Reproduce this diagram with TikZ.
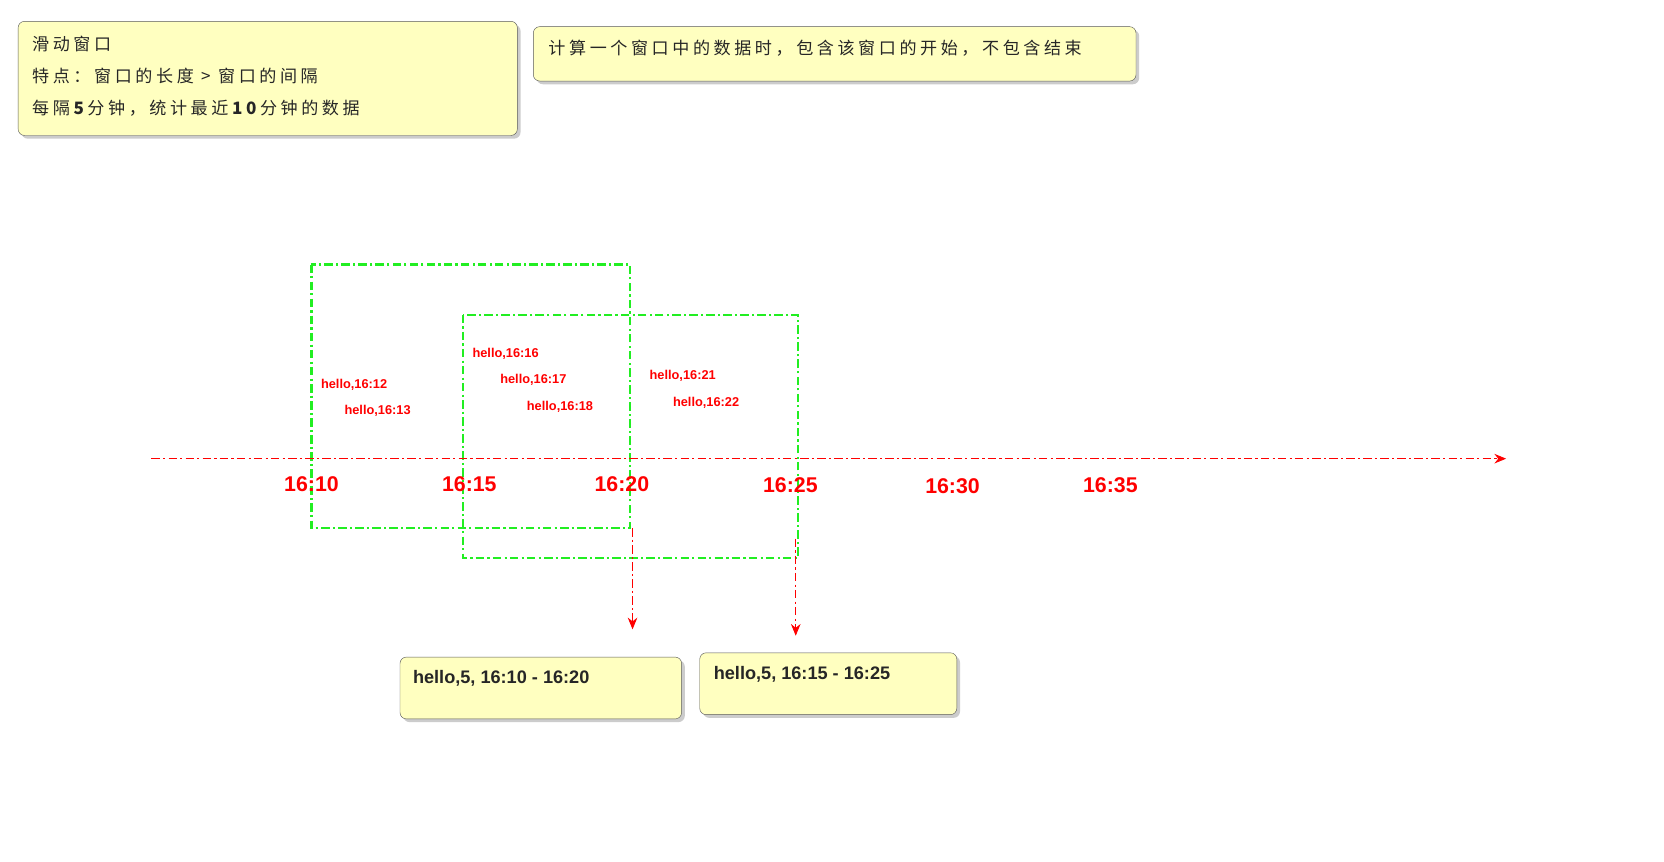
\documentclass[tikz,border=0pt]{standalone}
\usepackage{fontspec}
\setmainfont{Liberation Sans}
\newfontfamily\cjk[LetterSpace=21]{Noto Sans CJK SC}
\usetikzlibrary{shadows,arrows.meta}
\definecolor{noteyellow}{HTML}{FFFFC0}
\definecolor{wingreen}{HTML}{22EE22}
\tikzset{
  note/.style={draw=gray!70!black,fill=noteyellow,rounded corners=6pt,drop shadow={shadow xshift=3pt,shadow yshift=-3pt,opacity=0.4}},
  win/.style={draw=wingreen,line width=2pt,dash pattern=on 8pt off 3pt on 2pt off 3pt},
  axisline/.style={draw=red,line width=1pt,dash pattern=on 8pt off 3pt on 2pt off 3pt,-{Stealth[length=11pt,width=9pt]}},
  tlabel/.style={text=red,font=\bfseries\fontsize{20}{20}\selectfont,inner sep=0pt},
  hlabel/.style={text=red,font=\bfseries\fontsize{12}{12}\selectfont,inner sep=0pt},
  ntext/.style={anchor=west,inner sep=0pt,font=\cjk\fontsize{16}{16}\selectfont,text=black!85},
  rtext/.style={anchor=west,inner sep=0pt,font=\bfseries\fontsize{17}{17}\selectfont,text=black!85},
}
\begin{document}
\begin{tikzpicture}[x=1pt,y=-1pt]
\useasboundingbox[fill=white] (0,0) rectangle (1560,808);
\path[note] (17,20) rectangle (485,127);
\node[ntext] (n1) at (30,41) {滑动窗口};
\node[ntext] (n2) at (30,71) {特点：窗口的长度 > 窗口的间隔};
\node[ntext] (n3) at (30,101) {每隔\textbf{5}分钟，统计最近\textbf{10}分钟的数据};
\path[note] (500,25) rectangle (1065,76);
\node[ntext] (n4) at (514,45) {计算一个窗口中的数据时，包含该窗口的开始，不包含结束};
\path[win] (292,248) rectangle (591,495);
\path[win] (434,295) rectangle (748,523);
\coordinate (a0) at (142,430);
\coordinate (a1) at (1412,430);
\draw[axisline] (a0) -- (a1);
\node[tlabel] (t1) at (292,454) {16:10};
\node[tlabel] (t2) at (440,454) {16:15};
\node[tlabel] (t3) at (583,454) {16:20};
\node[tlabel] (t4) at (741,455) {16:25};
\node[tlabel] (t5) at (893,456) {16:30};
\node[tlabel] (t6) at (1041,455) {16:35};
\node[hlabel] (h1) at (332,361) {hello,16:12};
\node[hlabel] (h2) at (354,385) {hello,16:13};
\node[hlabel] (h3) at (474,332) {hello,16:16};
\node[hlabel] (h4) at (500,356) {hello,16:17};
\node[hlabel] (h5) at (525,381) {hello,16:18};
\node[hlabel] (h6) at (640,352) {hello,16:21};
\node[hlabel] (h7) at (662,378) {hello,16:22};
\coordinate (s1) at (593,495);
\coordinate (e1) at (593,590);
\coordinate (s2) at (746,505);
\coordinate (e2) at (746,596);
\draw[axisline,line width=0.8pt] (s1) -- (e1);
\draw[axisline,line width=0.8pt] (s2) -- (e2);
\path[note] (375,616) rectangle (639,674);
\node[rtext] (r1) at (387,636) {hello,5, 16:10 - 16:20};
\path[note] (656,612) rectangle (897,670);
\node[rtext] (r2) at (669,632) {hello,5, 16:15 - 16:25};
\end{tikzpicture}
\end{document}
